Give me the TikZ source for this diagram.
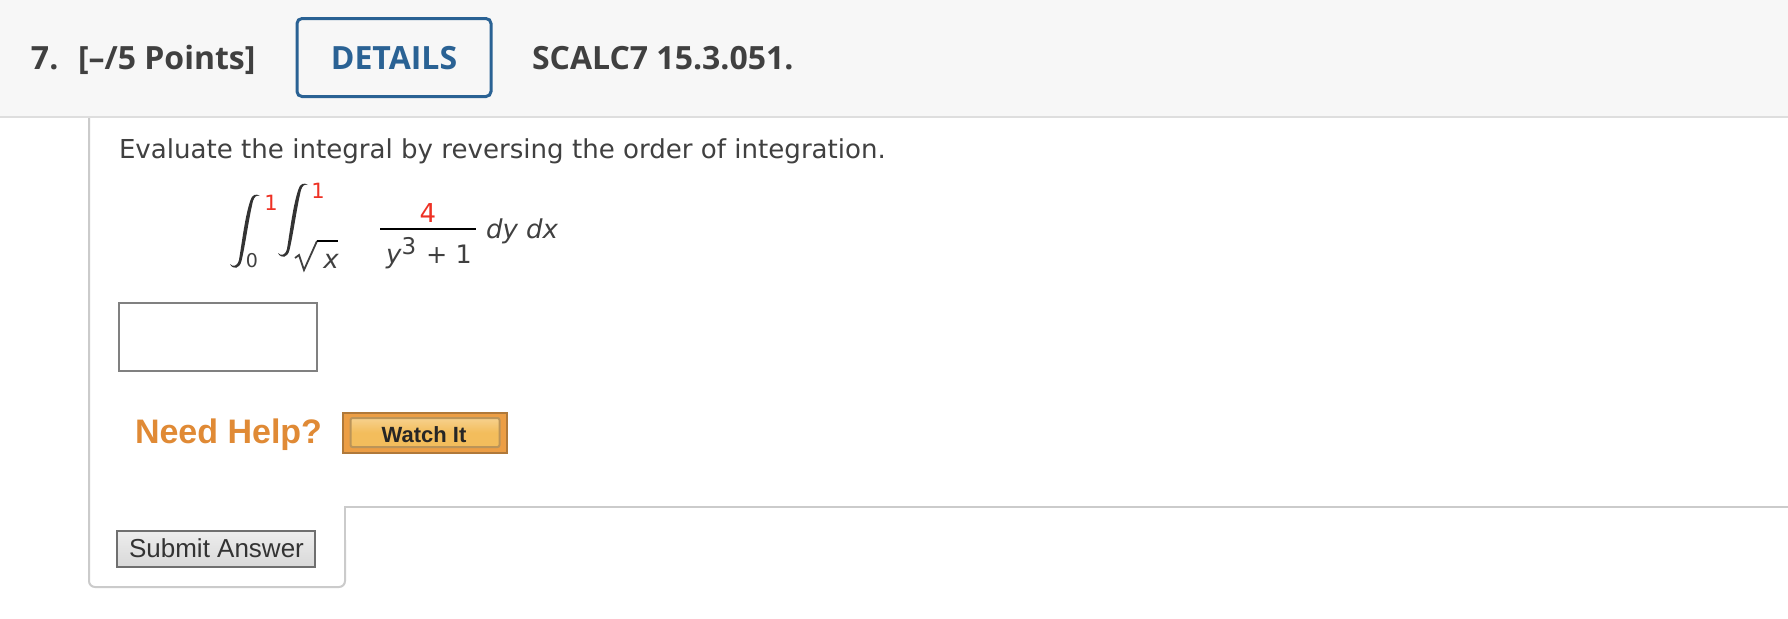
\documentclass[tikz,border=0pt]{standalone}
\usepackage{fontspec}
\setmainfont{Liberation Sans}
\newfontfamily\hdfont{Open Sans}
\newfontfamily\bodyfont{DejaVu Sans}
\definecolor{headbg}{HTML}{F7F7F7}
\definecolor{headline}{HTML}{DEDEDE}
\definecolor{darktext}{HTML}{404040}
\definecolor{detblue}{HTML}{2A6294}
\definecolor{panelline}{HTML}{CBCBCB}
\definecolor{inputline}{HTML}{808080}
\definecolor{helporange}{HTML}{E08A35}
\definecolor{limred}{HTML}{EE3124}
\definecolor{watchouter}{HTML}{EC9E45}
\definecolor{watchedge}{HTML}{B0793A}
\definecolor{watchinner}{HTML}{F3BD5C}
\definecolor{watchinedge}{HTML}{BB9458}
\definecolor{subedge}{HTML}{6F6F6F}
\tikzset{
  lbl/.style={anchor=base west,inner sep=0pt,outer sep=0pt,text=darktext},
  clbl/.style={anchor=base,inner sep=0pt,outer sep=0pt,text=darktext},
  hd/.style={lbl,font=\hdfont\bfseries\fontsize{16pt}{16pt}\selectfont},
  body/.style={lbl,font=\bodyfont\fontsize{13.04pt}{13pt}\selectfont},
  mth/.style={clbl,font=\bodyfont\fontsize{12.7pt}{13pt}\selectfont},
  mthit/.style={lbl,font=\bodyfont\itshape\fontsize{13pt}{13pt}\selectfont},
  lim/.style={clbl,text=limred,font=\bodyfont\fontsize{10.5pt}{11pt}\selectfont},
  panel/.style={draw=panelline,line width=1pt},
  intsign/.style={fill=black!80,draw=none}
}
\newcommand{\intsym}[2]{%
  \fill[intsign,shift={(#1,#2)}]
    (0,70) .. controls (3,73) and (7,73) .. (9,66)
    .. controls (12,48) and (15,22) .. (20.5,6)
    .. controls (22,1) and (26,-1) .. (30,2)
    .. controls (27,1) and (24.5,2) .. (23,7)
    .. controls (18.5,26) and (15.5,50) .. (11.5,67)
    .. controls (9.5,75) and (3,76) .. (0,70) -- cycle;}
\begin{document}
\begin{tikzpicture}[x=0.5pt,y=-0.5pt]
\useasboundingbox (0,0) rectangle (1788,618);
\fill[white] (0,0) rectangle (1788,618);
% header
\fill[headbg] (0,0) rectangle (1788,117);
\draw[headline,line width=1pt] (0,117) -- (1788,117);
% panel
\draw[panel,rounded corners=3pt] (89,118) -- (89,587) -- (345,587) -- (345,540);
\draw[panel,line cap=rect] (345,545) -- (345,507) -- (1788,507);
% header contents
\node[hd] (num) at (31,69) {7.};
\node[hd] (pts) at (78,69) {[–/5 Points]};
\node[draw=detblue,line width=1.5pt,rounded corners=2.5pt,minimum width=97pt,minimum height=39pt,inner sep=0pt,
      anchor=center] (det) at (394,57.5) {};
\node[hd,anchor=base,text=detblue] (dettxt) at (394,69) {DETAILS};
\node[hd] (code) at (532,69) {SCALC7 15.3.051.};
% question
\node[body] (q) at (119,158) {Evaluate the integral by reversing the order of integration.};
% integrals
\intsym{230}{194}
\intsym{278}{183}
\node[lim] (ua) at (271,210) {1};
\node[mth,font=\bodyfont\fontsize{9.5pt}{10pt}\selectfont] (la) at (252,267) {0};
\node[lim] (ub) at (318,198) {1};
\draw[darktext,line width=0.9pt,line join=miter] (295,258) -- (299,255) -- (304,270) -- (317,241);
\draw[black,line width=1pt] (317,241) -- (338,241);
\node[mthit,anchor=base] (xvar) at (331,268) {x};
\node[lim,font=\bodyfont\fontsize{13pt}{13pt}\selectfont] (four) at (428,222) {4};
\draw[black,line width=1pt] (380,229) -- (476,229);
\node[mthit] (yv) at (386,263) {y};
\node[lim,text=darktext,font=\bodyfont\fontsize{11.5pt}{12pt}\selectfont] (cube) at (409,254) {3};
\node[mth] (plusone) at (449,263) {+ 1};
\node[mthit] (dydx) at (486,238) {dy dx};
% input
\node[draw=inputline,line width=1pt,fill=white,minimum width=99pt,minimum height=34pt,inner sep=0pt,anchor=center] (ans) at (217.5,337) {};
% help
\node[lbl,text=helporange,font=\fontsize{17pt}{17pt}\bfseries\selectfont] (help) at (135,443) {Need Help?};
\node[draw=watchedge,fill=watchouter,line width=1pt,minimum width=82pt,minimum height=20pt,inner sep=0pt,anchor=center] (watch) at (425,433) {};
\node[draw=watchinedge,line width=1pt,rounded corners=1pt,top color=watchinner!70!white,bottom color=watchinner,middle color=watchinner,minimum width=74.5pt,minimum height=14.5pt,inner sep=0pt,anchor=center] (watchin) at (425,432.5) {};
\node[clbl,text=black!85,font=\fontsize{11pt}{12pt}\bfseries\selectfont] (wt) at (424,442) {Watch It};
% submit
\node[draw=subedge,line width=1pt,top color=white!93!black,bottom color=white!85!black,minimum width=99pt,minimum height=18pt,inner sep=0pt,anchor=center] (sub) at (216,548.5) {};
\node[clbl,font=\fontsize{13pt}{14pt}\selectfont,text=black!80] (subt) at (216.5,557) {Submit Answer};
\end{tikzpicture}
\end{document}
